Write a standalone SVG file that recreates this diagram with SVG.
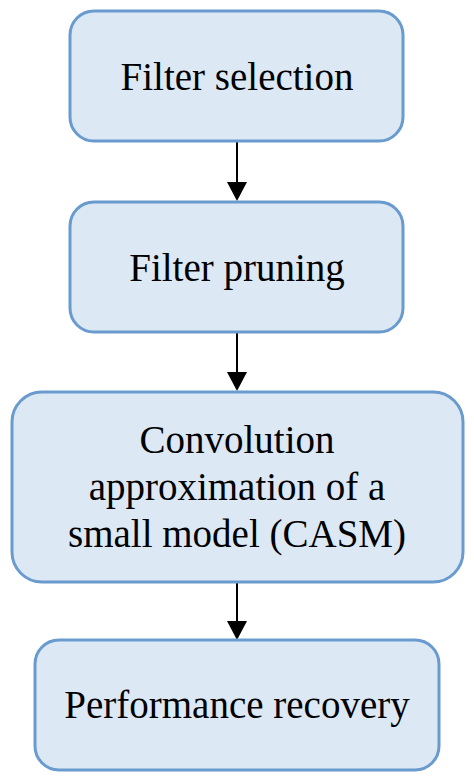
<svg xmlns="http://www.w3.org/2000/svg" width="474" height="784" viewBox="0 0 474 784">
<defs>
<style>
.box{fill:#DDE8F5;stroke:#6A9BCE;stroke-width:3}
.t{font-family:"Liberation Serif","Times New Roman",serif;font-size:39px;fill:#000;text-anchor:middle}
.c{stroke:#000;stroke-width:2;fill:none}
</style>
</defs>
<rect width="474" height="784" fill="#fff"/>
<g id="connectors">
<line class="c" x1="237" y1="142" x2="237" y2="182"/>
<path d="M227,182 L247,182 L237,201 z" fill="#000"/>
<line class="c" x1="237" y1="333" x2="237" y2="372"/>
<path d="M227,372 L247,372 L237,391 z" fill="#000"/>
<line class="c" x1="237" y1="583" x2="237" y2="621"/>
<path d="M227,621 L247,621 L237,640 z" fill="#000"/>
</g>
<g id="n1">
<rect class="box" x="70" y="11" width="333" height="130" rx="24"/>
<text class="t" x="237" y="90">Filter selection</text>
</g>
<g id="n2">
<rect class="box" x="70" y="202" width="333" height="130" rx="24"/>
<text class="t" x="237" y="281">Filter pruning</text>
</g>
<g id="n3">
<rect class="box" x="12" y="392" width="451" height="190" rx="30"/>
<text class="t" x="237" y="453">Convolution</text>
<text class="t" x="237" y="500">approximation of a</text>
<text class="t" x="237" y="547">small model (CASM)</text>
</g>
<g id="n4">
<rect class="box" x="35" y="640" width="404" height="130" rx="24"/>
<text class="t" x="237" y="718">Performance recovery</text>
</g>
</svg>
